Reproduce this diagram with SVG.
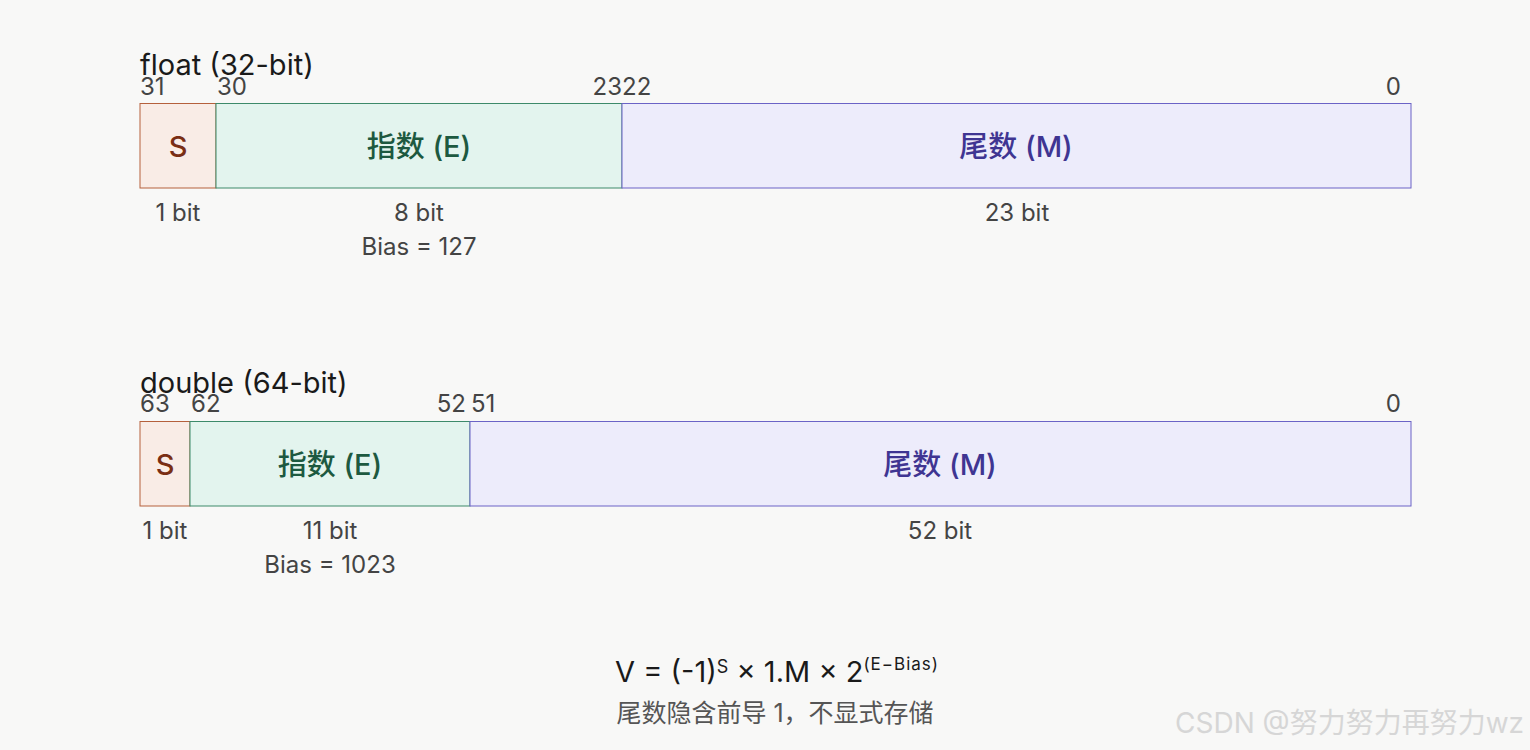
<svg xmlns="http://www.w3.org/2000/svg" width="1530" height="750" viewBox="0 0 1530 750">
<style>
text{font-family:Inter,"Noto Sans","Noto Sans CJK SC",sans-serif}
.title{font-size:29px;fill:#1a1a1a}
.num{font-size:24px;fill:#444}
.lbl{font-size:24px;fill:#444;text-anchor:middle}
.field{font-size:29px;font-weight:500;text-anchor:middle;dominant-baseline:central}
.s rect{fill:#f9ece6;stroke:#b5603c;stroke-width:1}
.s text{fill:#7a2e14}
.e rect{fill:#e3f4ee;stroke:#3d8a6a;stroke-width:1}
.e text{fill:#1d5940}
.m rect{fill:#edecfb;stroke:#6b63c6;stroke-width:1}
.m text{fill:#3f3592}
</style>
<rect width="1530" height="750" fill="#f8f8f7"/>

<g id="float">
<text class="title" x="140" y="75">float (32-bit)</text>
<text class="num" x="140" y="95">31</text>
<text class="num" x="217" y="95">30</text>
<text class="num" x="622" y="95" text-anchor="end">23</text>
<text class="num" x="622" y="95">22</text>
<text class="num" x="1401" y="95" text-anchor="end">0</text>
<g id="float-s" class="s"><rect x="140" y="103.5" width="76" height="84.5"/><text class="field" x="178" y="146">S</text></g>
<g id="float-e" class="e"><rect x="216" y="103.5" width="406" height="84.5"/><text class="field" x="419" y="146">指数 (E)</text></g>
<g id="float-m" class="m"><rect x="622" y="103.5" width="789" height="84.5"/><text class="field" x="1016" y="146">尾数 (M)</text></g>
<text class="lbl" x="178" y="221">1 bit</text>
<text class="lbl" x="419" y="221">8 bit</text>
<text class="lbl" x="419" y="255">Bias = 127</text>
<text class="lbl" x="1017" y="221">23 bit</text>
</g>

<g id="double">
<text class="title" x="140" y="393">double (64-bit)</text>
<text class="num" x="140" y="412">63</text>
<text class="num" x="191" y="412">62</text>
<text class="num" x="466" y="412" text-anchor="end">52</text>
<text class="num" x="471" y="412">51</text>
<text class="num" x="1401" y="412" text-anchor="end">0</text>
<g id="double-s" class="s"><rect x="140" y="421.5" width="50" height="84.5"/><text class="field" x="165" y="464">S</text></g>
<g id="double-e" class="e"><rect x="190" y="421.5" width="280" height="84.5"/><text class="field" x="330" y="464">指数 (E)</text></g>
<g id="double-m" class="m"><rect x="470" y="421.5" width="941" height="84.5"/><text class="field" x="940" y="464">尾数 (M)</text></g>
<text class="lbl" x="165" y="539">1 bit</text>
<text class="lbl" x="330" y="539">11 bit</text>
<text class="lbl" x="330" y="573">Bias = 1023</text>
<text class="lbl" x="940" y="539">52 bit</text>
</g>

<g id="formula">
<text x="615" y="682" style="font-size:29px;fill:#1a1a1a">V = (-1)<tspan dy="-9" style="font-size:18px">S</tspan><tspan dy="9"> × 1.M × 2</tspan><tspan dy="-12" style="font-size:17px;letter-spacing:1px">(E−Bias)</tspan></text>
<text x="775" y="722" text-anchor="middle" style="font-size:25px;fill:#555">尾数隐含前导 1，不显式存储</text>
</g>

<text x="1175" y="733" style="font-size:28px;fill:#d6d6d6">CSDN @努力努力再努力wz</text>
</svg>
